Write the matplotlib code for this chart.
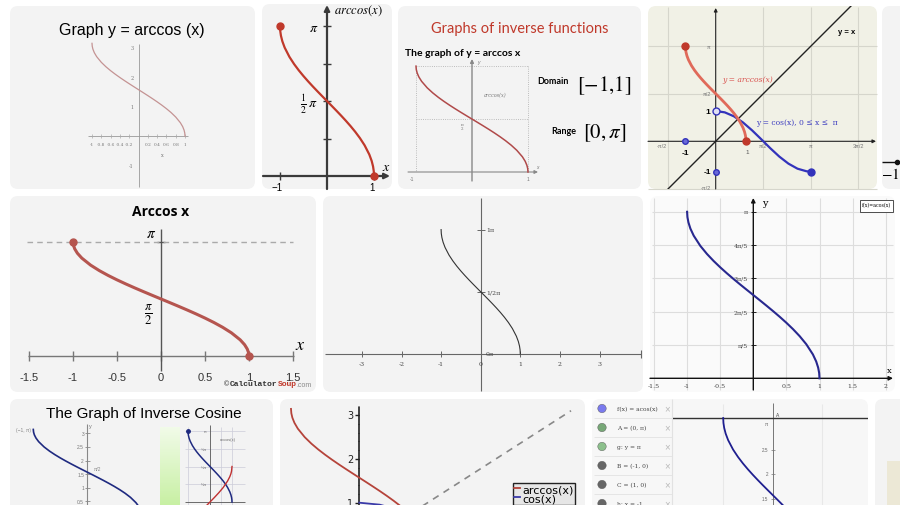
import matplotlib.pyplot as plt
import numpy as np
from matplotlib.patches import FancyBboxPatch, Rectangle, Circle
from matplotlib.colors import LinearSegmentedColormap

plt.rcParams["mathtext.fontset"] = "stix"

arccos_x = [-1.0, -0.995, -0.98, -0.95, -0.9, -0.8, -0.7, -0.6, -0.5, -0.4, -0.3, -0.2, -0.1,
            0.0, 0.1, 0.2, 0.3, 0.4, 0.5, 0.6, 0.7, 0.8, 0.9, 0.95, 0.98, 0.995, 1.0]
arccos_y = [3.1416, 3.0416, 2.9413, 2.8240, 2.6906, 2.4981, 2.3462, 2.2143, 2.0944, 1.9823,
            1.8755, 1.7722, 1.6710, 1.5708, 1.4706, 1.3694, 1.2661, 1.1593, 1.0472, 0.9273,
            0.7954, 0.6435, 0.4510, 0.3176, 0.2003, 0.1000, 0.0]
cos_x = [0.0, 0.3, 0.6, 0.9, 1.2, 1.5, 1.8, 2.1, 2.4, 2.7, 3.0, 3.1416]
cos_y = [1.0, 0.955, 0.825, 0.622, 0.362, 0.071, -0.227, -0.505, -0.737, -0.904, -0.990, -1.0]
arcsin_x = [-0.2, 0.0, 0.2, 0.4, 0.6, 0.8, 0.9, 0.95, 0.98, 1.0]
arcsin_y = [-0.20, 0.0, 0.20, 0.41, 0.64, 0.93, 1.12, 1.25, 1.37, 1.57]
line_x = [-2.5, 5.6]
line_y = [-2.5, 5.6]
extra_pts_x = [-1, 0]
extra_pts_y = [0, -1]
dashed_x = [0.88, 3.1]
dashed_y = [0.88, 3.1]

calc_ticks = [-1.5, -1, -0.5, 0, 0.5, 1, 1.5]
calc_labels = ["-1.5", "-1", "-0.5", "0", "0.5", "1", "1.5"]
int_ticks = [-3, -2, -1, 0, 1, 2, 3]
fifth_labels = ["π/5", "2π/5", "3π/5", "4π/5", "π"]
geo_items = ["f(x) = acos(x)", "A = (0, π)", "g: y = π", "B = (-1, 0)", "C = (1, 0)", "h: x = -1"]
geo_colors = ["#7a7aee", "#77a877", "#8cc08c", "#666666", "#666666", "#666666"]

W, H = 900, 506
fig = plt.figure(figsize=(9, 5.06), dpi=100)
fig.patch.set_facecolor("white")
bg = fig.add_axes([0, 0, 1, 1])
bg.set_xlim(0, W)
bg.set_ylim(H, 0)
bg.axis("off")

SANS = "Liberation Sans"
SERIF = "DejaVu Serif"


def tile(x0, y0, x1, y1, fc="#f3f3f3", r=8):
    bg.add_patch(FancyBboxPatch((x0 + r, y0 + r), x1 - x0 - 2 * r, y1 - y0 - 2 * r,
                                boxstyle=f"round,pad={r}", fc=fc, ec="none", zorder=0))


def t(x, y, s, size=6, **kw):
    kw.setdefault("ha", "center")
    kw.setdefault("va", "center")
    kw.setdefault("family", SANS)
    return bg.text(x, y, s, fontsize=size, zorder=3, **kw)


def seg(x0, y0, x1, y1, **kw):
    kw.setdefault("color", "#555")
    kw.setdefault("lw", 0.8)
    bg.plot([x0, x1], [y0, y1], solid_capstyle="butt", zorder=1, **kw)


def arrow(x0, y0, x1, y1, color="#333", lw=1.0, ms=6):
    bg.annotate("", xy=(x1, y1), xytext=(x0, y0), zorder=1,
                arrowprops=dict(arrowstyle="-|>", color=color, lw=lw, mutation_scale=ms,
                                shrinkA=0, shrinkB=0))


class Frame:
    def __init__(self, box, origin, scale, zorder=2):
        x0, y0, x1, y1 = box
        self.ox, self.oy = origin
        self.sx, self.sy = scale
        ax = fig.add_axes([x0 / W, 1 - y1 / H, (x1 - x0) / W, (y1 - y0) / H], zorder=zorder)
        ax.set_xlim((x0 - self.ox) / self.sx, (x1 - self.ox) / self.sx)
        ax.set_ylim((self.oy - y1) / self.sy, (self.oy - y0) / self.sy)
        ax.patch.set_visible(False)
        for s in ax.spines.values():
            s.set_visible(False)
        ax.set_xticks([])
        ax.set_yticks([])
        self.ax = ax

    def px(self, v):
        return self.ox + v * self.sx

    def py(self, v):
        return self.oy - v * self.sy


# ---------------- row 1 ----------------
# tile A
tile(10, 7, 255, 190)
t(132, 30, "Graph y = arccos (x)", 11.5)
fa = Frame((60, 40, 220, 190), (138.5, 137), (46.5, 29.5))
seg(88, 137, 188, 137, color="#999", lw=0.6)
seg(138.5, 45, 138.5, 188, color="#999", lw=0.6)
for v in [-1, -0.8, -0.6, -0.4, -0.2, 0.2, 0.4, 0.6, 0.8, 1]:
    seg(fa.px(v), 135, fa.px(v), 139, color="#aaa", lw=0.5)
    t(fa.px(v), 145, f"{v:g}", 3.2, color="#777", family=SERIF)
for v in [-1, 1, 2, 3]:
    t(134, fa.py(v), f"{v}", 3.5, color="#777", family=SERIF, ha="right")
t(162, 155, "x", 3.5, color="#777", family=SERIF)
fa.ax.plot(arccos_x, arccos_y, color="#c49393", lw=0.9)

# tile B
tile(262, 5, 392, 190)
fb = Frame((262, 5, 392, 190), (327, 177), (47, 47.7))
arrow(327, 190, 327, 6, color="#3a3a3a", lw=1.6, ms=8)
arrow(263, 177, 390, 177, color="#3a3a3a", lw=1.6, ms=8)
for k in [1, 2, 3, 4]:
    seg(323, fb.py(k * 3.1416 / 4), 331, fb.py(k * 3.1416 / 4), color="#3a3a3a", lw=1)
for v in [-1, 1]:
    seg(fb.px(v), 173, fb.px(v), 181, color="#3a3a3a", lw=1)
t(318, 28, r"$\pi$", 10, ha="right")
t(318, 104, r"$\frac{1}{2}\,\pi$", 10, ha="right")
t(277, 188, "−1", 7)
t(372, 188, "1", 7)
t(334, 11, r"$arccos(x)$", 9, ha="left")
t(386, 167, r"$x$", 10)
fb.ax.plot(arccos_x, arccos_y, color="#c0392b", lw=1.6)
fb.ax.plot([arccos_x[0], arccos_x[-1]], [arccos_y[0], arccos_y[-1]], "o",
           color="#c0392b", ms=5, clip_on=False)

# tile C
tile(398, 7, 641, 190)
t(520, 29, "Graphs of inverse functions", 10.5, color="#c0392b", family="Lato")
t(405, 53, "The graph of y = arccos x", 7.5, weight="bold", family="Lato", ha="left")
fc = Frame((398, 55, 641, 190), (472, 173), (56, 33.7))
for xx in [416, 528]:
    seg(xx, 67, xx, 173, color="#aaa", lw=0.6, ls=":")
seg(416, 67, 528, 67, color="#aaa", lw=0.6, ls=":")
seg(416, fc.py(3.1416 / 2), 528, fc.py(3.1416 / 2), color="#aaa", lw=0.6, ls=":")
arrow(472, 182, 472, 60, color="#888", lw=1, ms=5)
arrow(408, 173, 538, 173, color="#888", lw=0.8, ms=5)
t(495, 96, "arccos(x)", 3.5, family=SERIF, style="italic", color="#777")
t(462, 127, "π\n2", 3, family=SERIF, color="#777")
t(412, 179, "-1", 3.5, color="#777")
t(528, 179, "1", 3.5, color="#777")
t(537, 167, "x", 3.5, color="#777", style="italic")
t(479, 62, "y", 3.5, color="#777", style="italic")
t(537, 81, "Domain", 6.5, weight="bold", family="Lato", ha="left")
t(577, 86, r"$[-1{,}1]$", 15, ha="left")
t(551, 131, "Range", 6.5, weight="bold", family="Lato", ha="left")
t(583, 133, r"$[0,\pi]$", 15, ha="left")
fc.ax.plot(arccos_x, arccos_y, color="#b04a4a", lw=1.1)

# tile D
tile(648, 7, 877, 190, fc="#f1f1e6")
fd = Frame((648, 7, 877, 190), (715.7, 142.3), (30.3, 30.3))
half_pi = np.pi / 2
for k in [-1, 1, 2, 3]:
    seg(fd.px(k * half_pi), 8, fd.px(k * half_pi), 190, color="#d6d6cc", lw=0.8)
for k in [-1, 1, 2]:
    seg(648, fd.py(k * half_pi), 877, fd.py(k * half_pi), color="#d6d6cc", lw=0.8)
arrow(648, 142.3, 876, 142.3, color="#222", lw=0.8, ms=5)
arrow(715.7, 190, 715.7, 9, color="#222", lw=0.8, ms=5)
t(711, 47, "π", 4, color="#777", ha="right")
t(711, 94, "π/2", 4, color="#777", ha="right")
t(710, 112, "1", 6, weight="bold", ha="right")
t(685, 153, "-1", 6, weight="bold")
t(711, 172, "-1", 6, weight="bold", ha="right")
t(747, 152, "1", 4.5, color="#555")
t(662, 146, "-π/2", 4, color="#777")
t(763, 146, "π/2", 4, color="#777")
t(811, 146, "π", 4, color="#777")
t(858, 146, "3π/2", 4, color="#777")
t(711, 188, "-π/2", 4, color="#777", ha="right")
t(847, 32, "y = x", 5.5, weight="bold")
t(722, 80, "y = arccos(x)", 5.5, color="#d9534f", family=SERIF, style="italic", ha="left")
t(756, 123, "y = cos(x), 0 ≤ x ≤  π", 5.5, color="#4040c0", family=SERIF, ha="left")
fd.ax.plot(line_x, line_y, color="#222", lw=1)
fd.ax.plot(cos_x, cos_y, color="#3333bb", lw=1.6)
fd.ax.plot(arccos_x, arccos_y, color="#e06a5a", lw=2)
fd.ax.plot([arccos_x[0], arccos_x[-1]], [arccos_y[0], arccos_y[-1]], "o", color="#c0392b", ms=5)
fd.ax.plot([cos_x[0]], [cos_y[0]], "o", mfc="#e0e0f4", mec="#3333bb", ms=5)
fd.ax.plot([cos_x[-1]], [cos_y[-1]], "o", color="#3333bb", ms=5)
fd.ax.plot(extra_pts_x, extra_pts_y, "o", mfc="#6a6ad8", mec="#3333bb", ms=4)

# partial tile
tile(882, 7, 910, 190)
seg(882, 163, 897, 163, color="#111", lw=1)
bg.plot([897], [163], "o", color="#111", ms=3, zorder=2)
t(890, 174, r"$-1$", 11)

# ---------------- row 2 ----------------
# tile E
tile(10, 197, 316, 393)
t(161, 212, "Arccos x", 10, weight="bold", family="Open Sans")
fe = Frame((10, 225, 316, 393), (161, 357.3), (88, 36.5))
seg(28, 357.3, 294, 357.3, color="#777", lw=1)
for v, lab in zip(calc_ticks, calc_labels):
    seg(fe.px(v), 352, fe.px(v), 362, color="#777", lw=1)
    t(fe.px(v), 378, lab, 8, color="#333")
seg(161, 230, 161, 372, color="#555", lw=1)
seg(157, fe.py(np.pi), 165, fe.py(np.pi), color="#555", lw=1)
t(151, 234, r"$\pi$", 11)
t(148, 315, r"$\frac{\pi}{2}$", 13)
t(300, 346, r"$x$", 13)
t(226, 385, "©", 5, color="#333")
t(230, 385, "Calculator", 5.8, family="Liberation Mono", weight="bold", ha="left", color="#333")
t(278, 385, "Soup", 5.8, family="Liberation Mono", weight="bold", ha="left", color="#c0392b")
t(296, 386, ".com", 5, ha="left", color="#888")
fe.ax.plot([-1.52, 1.5], [arccos_y[0], arccos_y[0]], color="#aaaaaa", lw=1, ls=(0, (4, 3)))
fe.ax.plot(arccos_x, arccos_y, color="#b5554f", lw=2.2)
fe.ax.plot([arccos_x[0], arccos_x[-1]], [arccos_y[0], arccos_y[-1]], "o", color="#b5554f", ms=5)

# tile F
tile(323, 197, 643, 393)
ff = Frame((323, 197, 643, 393), (480.7, 355), (39.6, 39.6))
seg(325, 355, 641, 355, color="#666", lw=0.8)
seg(641, 351, 641, 359, color="#666", lw=0.8)
seg(480.7, 199, 480.7, 392, color="#666", lw=0.8)
for v in int_ticks:
    seg(ff.px(v), 352, ff.px(v), 358, color="#666", lw=0.7)
    if v != 0:
        t(ff.px(v), 364, f"{v}", 4.5, family=SERIF, color="#444")
t(ff.px(0), 364, "0", 4.5, family=SERIF, color="#444")
for v, lab in [(np.pi, "1π"), (np.pi / 2, "1/2π"), (0, "0π")]:
    seg(477, ff.py(v), 485, ff.py(v), color="#666", lw=0.7)
    t(486, ff.py(v), lab, 4.5, family=SERIF, color="#444", ha="left")
ff.ax.plot(arccos_x, arccos_y, color="#333", lw=0.8)

# tile G
tile(650, 197, 895, 393, fc="#fafafa")
fg = Frame((650, 197, 895, 393), (753.3, 379.3), (66.2, 53))
for v in [-1.5, -1, -0.5, 0.5, 1, 1.5, 2]:
    seg(fg.px(v), 199, fg.px(v), 391, color="#dddddd", lw=0.8)
    t(fg.px(v), 387, f"{v:g}", 4.5, family=SERIF, color="#444")
for k, lab in enumerate(fifth_labels, start=1):
    seg(652, fg.py(k * np.pi / 5), 893, fg.py(k * np.pi / 5), color="#dddddd", lw=0.8)
    seg(751, fg.py(k * np.pi / 5), 756, fg.py(k * np.pi / 5), color="#222", lw=0.7)
    t(748, fg.py(k * np.pi / 5), lab, 4.5, family=SERIF, color="#444", ha="right")
arrow(650, 379.3, 893, 379.3, color="#111", lw=1, ms=6)
arrow(753.3, 391, 753.3, 199, color="#111", lw=1, ms=6)
t(765, 204, "y", 7, family=SERIF)
t(889, 371, "x", 6, family=SERIF)
bg.add_patch(Rectangle((860, 201), 33, 12, fc="white", ec="#333", lw=0.6, zorder=2))
t(876.5, 206, "f(x)=acos(x)", 3.3, family=SERIF)
seg(862, 210, 891, 210, color="#2a2a9a", lw=0.8)
fg.ax.plot(arccos_x, arccos_y, color="#28288f", lw=1.5)

# ---------------- row 3 ----------------
# tile H
tile(10, 400, 273, 520)
t(144, 414, "The Graph of Inverse Cosine", 11)
fh = Frame((10, 420, 160, 506), (87.3, 515.9), (54, 27.2))
seg(87.3, 425, 87.3, 506, color="#888", lw=0.8)
for v in [0.5, 1, 1.5, 2, 2.5, 3]:
    seg(85, fh.py(v), 89.5, fh.py(v), color="#888", lw=0.6)
    t(84, fh.py(v), f"{v:g}", 3.5, color="#777", ha="right")
t(90, 427, "y", 4, color="#777")
t(24, 431, "(−1, π)", 3.5, color="#888")
t(94, 470, "π/2", 3.5, color="#888", ha="left")
fh.ax.plot(arccos_x, arccos_y, color="#1f2a80", lw=1.2)
green = LinearSegmentedColormap.from_list("g", ["#f1fbe8", "#c8f0a4"])
bg.imshow(np.linspace(0, 1, 50).reshape(-1, 1), cmap=green, aspect="auto",
          extent=(160, 180, 506, 428), zorder=1)
fh2 = Frame((183, 425, 245, 506), (210, 503), (22, 22.6))
for v in [-1, 0.5, 1]:
    seg(fh2.px(v), 428, fh2.px(v), 506, color="#ccccd8", lw=0.5)
for k in [1, 2, 3, 4]:
    seg(185, fh2.py(k * np.pi / 4), 245, fh2.py(k * np.pi / 4), color="#ccccd8", lw=0.5)
seg(210, 426, 210, 506, color="#555", lw=0.6)
seg(185, 503, 245, 503, color="#555", lw=0.6)
t(228, 440, "arccos(x)", 2.8, color="#666")
for k, lab in [(4, "π"), (3, "¾π"), (2, "½π"), (1, "¼π")]:
    t(207, fh2.py(k * np.pi / 4), lab, 2.8, color="#666", ha="right")
fh2.ax.plot(arccos_x, arccos_y, color="#1f2a80", lw=1.1)
fh2.ax.plot([arccos_x[0]], [arccos_y[0]], "o", color="#1f2a80", ms=2.5)
fh2.ax.plot(arcsin_x, arcsin_y, color="#c03030", lw=1)

# tile I
tile(280, 400, 585, 520)
fi = Frame((280, 400, 585, 506), (359.3, 547.5), (68.3, 43.8))
seg(359.3, 408, 359.3, 506, color="#222", lw=1.2)
for v in np.arange(1.2, 3.21, 0.2):
    seg(357.5, fi.py(v), 359.3, fi.py(v), color="#222", lw=0.7)
for v in [1, 2, 3]:
    seg(355, fi.py(v), 359.3, fi.py(v), color="#222", lw=1)
    t(353, fi.py(v), f"{v}", 7, family="DejaVu Sans", ha="right", color="#222")
fi.ax.plot(dashed_x, dashed_y, color="#888", lw=1.2, ls=(0, (4, 3.5)))
l1, = fi.ax.plot(arccos_x, arccos_y, color="#b5433a", lw=1.3, label="arccos(x)")
l2, = fi.ax.plot(cos_x, cos_y, color="#3a3aa8", lw=1.3, label="cos(x)")
leg = fi.ax.legend(handles=[l1, l2], loc="upper left", bbox_to_anchor=(507 / W, 1 - 478 / H),
                   bbox_transform=fig.transFigure, prop=dict(family="DejaVu Sans", size=8),
                   handlelength=0.5, handletextpad=0.2, borderpad=0.15, labelspacing=-0.1,
                   fancybox=False, framealpha=1, facecolor="#e6e6e6", edgecolor="#222")
leg.get_frame().set_linewidth(1)

# tile J
tile(592, 400, 868, 520, fc="#f7f7f7")
seg(672, 400, 672, 506, color="#e2e2e2", lw=0.8)
for i, (lab, col) in enumerate(zip(geo_items, geo_colors)):
    yy = 409.5 + i * 19
    if i > 0:
        seg(594, yy - 9.5, 672, yy - 9.5, color="#e2e2e2", lw=0.6)
    bg.add_patch(Circle((602, yy), 4.2, fc=col, ec="#555", lw=0.3, zorder=2))
    t(617, yy, lab, 4.3, family=SERIF, color="#444", ha="left")
    t(667, yy, "×", 7, color="#bbbbbb")
fj = Frame((673, 400, 868, 506), (772.7, 573), (49.5, 49))
for v in [-1, 1]:
    seg(fj.px(v), 405, fj.px(v), 506, color="#e8e8e8", lw=0.8)
seg(772.7, 404, 772.7, 506, color="#777", lw=0.7)
for v in [2.5, 2, 1.5]:
    seg(771, fj.py(v), 774.5, fj.py(v), color="#777", lw=0.5)
    t(768, fj.py(v), f"{v:g}", 3.3, color="#666", ha="right")
t(768, 425, "π", 3.3, color="#666", ha="right")
t(776, 416, "A", 3.5, color="#444", ha="left")
fj.ax.plot([-2.1, 2.0], [arccos_y[0], arccos_y[0]], color="#333", lw=1)
fj.ax.plot(arccos_x, arccos_y, color="#1f1f8f", lw=1.3)

# tile K
tile(875, 400, 910, 520)
bg.add_patch(Rectangle((887, 462), 13, 44, fc="#ece8d6", ec="none", zorder=1))

fig.savefig("out.png", dpi=100)
